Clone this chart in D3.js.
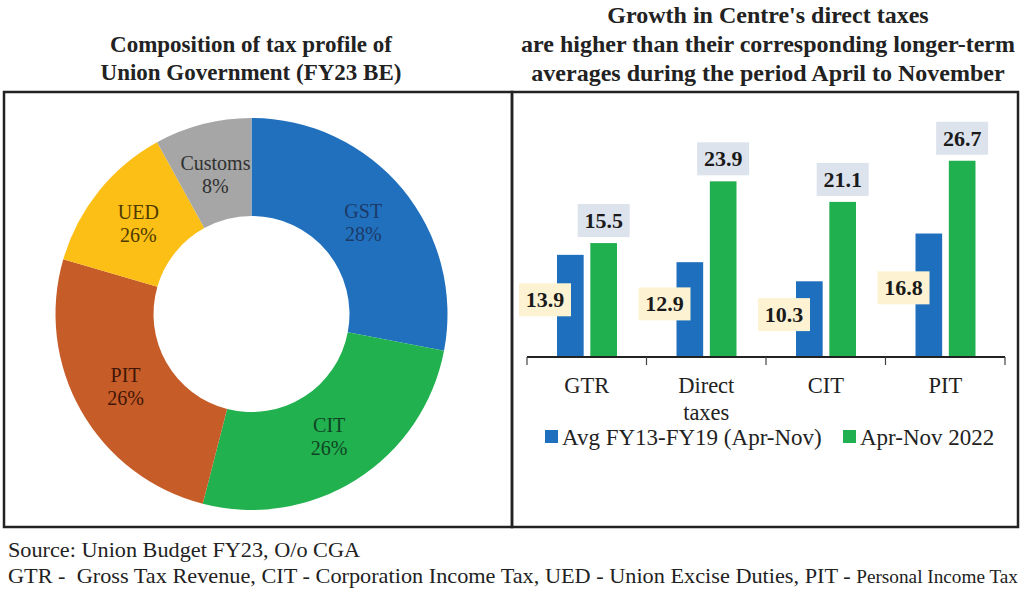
<!DOCTYPE html>
<html>
<head>
<meta charset="utf-8">
<script src="https://cdn.jsdelivr.net/npm/d3@7"></script>
<style>
  html, body { margin: 0; padding: 0; background: #fff; }
  svg { display: block; }
  text { font-family: "Liberation Serif", "Times New Roman", serif; white-space: pre; }
</style>
</head>
<body>
<svg id="chart" width="1024" height="594"></svg>
<script>
// ---------- Data ----------
const pieCategories = ["GST", "CIT", "PIT", "UED", "Customs"];
const pieShares = [28, 26, 25.5, 12.5, 8];
const pieLabels = ["28%", "26%", "26%", "26%", "8%"];
const pieColors = ["#2170bd", "#22b14f", "#c65c28", "#fcbf15", "#a6a6a6"];
const pieTextColors = ["#1c3a68", "#0e4424", "#3f1606", "#4e3a00", "#303030"];

const barCategories = ["GTR", "Direct taxes", "CIT", "PIT"];
const barCategoryLines = [["GTR"], ["Direct", "taxes"], ["CIT"], ["PIT"]];
const seriesNames = ["Avg FY13-FY19 (Apr-Nov)", "Apr-Nov 2022"];
const avgValues = [13.9, 12.9, 10.3, 16.8];
const currentValues = [15.5, 23.9, 21.1, 26.7];
const seriesColors = ["#1f6fbf", "#21b04f"];

const leftTitle = ["Composition of tax profile of", "Union Government (FY23 BE)"];
const rightTitle = ["Growth in Centre's direct taxes",
                    "are higher than their corresponding longer-term",
                    "averages during the period April to November"];
const footLine1 = "Source: Union Budget FY23, O/o CGA";
const footLine2a = "GTR -  Gross Tax Revenue, CIT - Corporation Income Tax, UED - Union Excise Duties, PIT - ";
const footLine2b = "Personal Income Tax";

// ---------- Drawing ----------
const svg = d3.select("#chart");
svg.append("rect").attr("width", 1024).attr("height", 594).attr("fill", "#fff");

// Panel borders
svg.append("rect").attr("x", 4).attr("y", 92).attr("width", 508).attr("height", 435)
  .attr("fill", "none").attr("stroke", "#222").attr("stroke-width", 2.5);
svg.append("rect").attr("x", 512).attr("y", 92).attr("width", 506).attr("height", 435)
  .attr("fill", "none").attr("stroke", "#222").attr("stroke-width", 2.5);

// Titles
leftTitle.forEach((t, i) => {
  svg.append("text").attr("x", 251).attr("y", 52 + i * 28)
    .attr("text-anchor", "middle").attr("font-weight", "bold").attr("font-size", 23)
    .attr("fill", "#222").text(t);
});
rightTitle.forEach((t, i) => {
  svg.append("text").attr("x", 768).attr("y", 23 + i * 29)
    .attr("text-anchor", "middle").attr("font-weight", "bold").attr("font-size", 24)
    .attr("fill", "#222").text(t);
});

// ---------- Donut ----------
const cx = 251.5, cy = 314, rOuter = 196, rInner = 98;
const pie = d3.pie().sort(null).value(d => d.v);
const pieData = pie(pieCategories.map((c, i) => ({ c, v: pieShares[i], i })));
const arc = d3.arc().innerRadius(rInner).outerRadius(rOuter);
const labelArc = d3.arc().innerRadius(145).outerRadius(145);
const gPie = svg.append("g").attr("transform", `translate(${cx},${cy})`);
gPie.selectAll("path").data(pieData).join("path")
  .attr("d", arc).attr("fill", d => pieColors[d.data.i]);
gPie.selectAll("text.lbl").data(pieData).join("text")
  .attr("class", "lbl")
  .attr("transform", d => `translate(${labelArc.centroid(d)})`)
  .attr("text-anchor", "middle")
  .attr("font-size", 20)
  .attr("fill", d => pieTextColors[d.data.i])
  .each(function (d) {
    const t = d3.select(this);
    t.append("tspan").attr("x", 0).attr("dy", -4).text(d.data.c);
    t.append("tspan").attr("x", 0).attr("dy", 23).text(pieLabels[d.data.i]);
  });

// ---------- Bars ----------
const x0 = d3.scaleBand().domain(barCategories).range([527, 1005]).padding(0);
const x1 = d3.scaleBand().domain([0, 1]).range([30, 90]).paddingInner(0.2);
const y = d3.scaleLinear().domain([0, 30]).range([357, 136.5]);

const gBars = svg.append("g");
barCategories.forEach((c, i) => {
  const vals = [avgValues[i], currentValues[i]];
  vals.forEach((v, s) => {
    gBars.append("rect")
      .attr("x", x0(c) + x1(s)).attr("y", y(v))
      .attr("width", x1.bandwidth()).attr("height", y(0) - y(v))
      .attr("fill", seriesColors[s]);
  });
});

// Axis line and ticks at band boundaries
const gAxis = svg.append("g");
gAxis.append("line").attr("x1", x0.range()[0]).attr("x2", x0.range()[1])
  .attr("y1", y(0)).attr("y2", y(0)).attr("stroke", "#222").attr("stroke-width", 2);
const tickXs = barCategories.map(c => x0(c)).concat([x0.range()[1]]);
gAxis.selectAll("line.tick").data(tickXs).join("line")
  .attr("class", "tick").attr("x1", d => d).attr("x2", d => d)
  .attr("y1", y(0)).attr("y2", y(0) + 8).attr("stroke", "#444").attr("stroke-width", 1.2);

// Category labels
barCategories.forEach((c, i) => {
  barCategoryLines[i].forEach((ln, k) => {
    svg.append("text").attr("x", x0(c) + x0.bandwidth() / 2).attr("y", 393 + k * 27)
      .attr("text-anchor", "middle").attr("font-size", 22.5).attr("fill", "#222").text(ln);
  });
});

// Value labels
const boxW = 52, boxH = 33;
barCategories.forEach((c, i) => {
  const ax = x0(c) + 18, ay = y(avgValues[i] * 0.56);
  svg.append("rect").attr("x", ax - boxW / 2).attr("y", ay - boxH / 2)
    .attr("width", boxW).attr("height", boxH).attr("fill", "#fdf3d3");
  svg.append("text").attr("x", ax).attr("y", ay + 7.5).attr("text-anchor", "middle")
    .attr("font-weight", "bold").attr("font-size", 22).attr("fill", "#1a1a1a")
    .text(avgValues[i].toFixed(1));
  const gx = x0(c) + x1(1) + x1.bandwidth() / 2, gy = y(currentValues[i]) - 6 - boxH / 2;
  svg.append("rect").attr("x", gx - boxW / 2).attr("y", gy - boxH / 2)
    .attr("width", boxW).attr("height", boxH).attr("fill", "#dde3ec");
  svg.append("text").attr("x", gx).attr("y", gy + 7.5).attr("text-anchor", "middle")
    .attr("font-weight", "bold").attr("font-size", 22).attr("fill", "#1a1a1a")
    .text(currentValues[i].toFixed(1));
});

// Legend
const legendItems = [{ x: 545, tx: 562 }, { x: 843, tx: 860 }];
seriesNames.forEach((n, s) => {
  svg.append("rect").attr("x", legendItems[s].x).attr("y", 430).attr("width", 13).attr("height", 13)
    .attr("fill", seriesColors[s]);
  svg.append("text").attr("x", legendItems[s].tx).attr("y", 445)
    .attr("font-size", 23).attr("fill", "#222").text(n);
});

// Footer
svg.append("text").attr("x", 8).attr("y", 557).attr("font-size", 22).attr("fill", "#222")
  .attr("textLength", 352).attr("lengthAdjust", "spacingAndGlyphs").text(footLine1);
const f2 = svg.append("text").attr("x", 8).attr("y", 583).attr("fill", "#222")
  .attr("font-size", 22);
f2.append("tspan").text(footLine2a);
f2.append("tspan").attr("font-size", 19).text(footLine2b);
f2.attr("textLength", 1010).attr("lengthAdjust", "spacingAndGlyphs");
</script>
</body>
</html>
